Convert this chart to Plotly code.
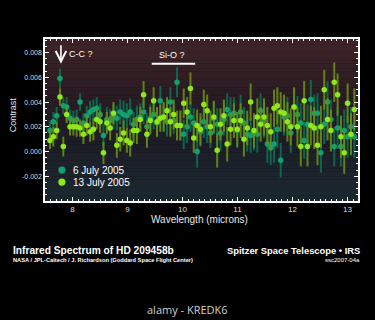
import plotly.graph_objects as go

# ---------------- data ----------------
wavelength = [7.590, 7.651, 7.712, 7.772, 7.833, 7.894, 7.955, 8.016, 8.076, 8.137,
              8.198, 8.259, 8.320, 8.380, 8.441, 8.502, 8.563, 8.624, 8.684, 8.745,
              8.806, 8.867, 8.928, 8.988, 9.049, 9.110, 9.171, 9.232, 9.292, 9.353,
              9.414, 9.475, 9.536, 9.596, 9.657, 9.718, 9.779, 9.840, 9.900, 9.961,
              10.022, 10.083, 10.144, 10.204, 10.265, 10.326, 10.387, 10.448, 10.508, 10.569,
              10.630, 10.691, 10.752, 10.812, 10.873, 10.934, 10.995, 11.056, 11.116, 11.177,
              11.238, 11.299, 11.360, 11.420, 11.481, 11.542, 11.603, 11.664, 11.724, 11.785,
              11.846, 11.907, 11.968, 12.028, 12.089, 12.150, 12.211, 12.272, 12.332, 12.393,
              12.454, 12.515, 12.576, 12.636, 12.697, 12.758, 12.819, 12.880, 12.940, 13.001,
              13.062, 13.123]

contrast_jul6 = [0.0017, 0.0024, 0.0029, 0.0059, 0.0037, 0.0036, 0.0027, 0.0025, 0.0026, 0.0040,
                 0.0023, 0.0029, 0.0032, 0.0034, 0.0035, 0.0030, 0.0013, 0.0026, 0.0025, 0.0028,
                 0.0027, 0.0032, 0.0030, 0.0029, 0.0032, 0.0022, 0.0026, 0.0028, 0.0032, 0.0020,
                 0.0027, 0.0030, 0.0023, 0.0041, 0.0028, 0.0024, 0.0040, 0.0025, 0.0056, 0.0021,
                 0.0014, 0.0020, 0.0028, 0.0023, 0.0000, 0.0016, 0.0024, 0.0020, 0.0015, 0.0027,
                 0.0022, 0.0015, 0.0026, 0.0034, 0.0030, 0.0031, 0.0017, 0.0032, 0.0023, 0.0014,
                 0.0013, 0.0015, 0.0014, 0.0033, 0.0025, 0.0006, 0.0003, 0.0006, 0.0018, -0.0007,
                 0.0028, 0.0029, 0.0015, 0.0036, 0.0030, 0.0023, 0.0009, 0.0022, 0.0042, 0.0031,
                 0.0031, -0.0001, 0.0022, 0.0040, 0.0026, 0.0004, 0.0019, 0.0004, 0.0017, 0.0012,
                 0.0020, 0.0012]

contrast_jul13 = [0.0009, 0.0012, 0.0017, 0.0044, 0.0004, 0.0030, 0.0020, 0.0020, 0.0020, 0.0019,
                  0.0014, 0.0021, 0.0016, 0.0018, 0.0026, 0.0024, -0.0001, 0.0023, 0.0019, 0.0031,
                  0.0005, 0.0010, 0.0015, 0.0009, 0.0007, 0.0017, 0.0017, 0.0026, 0.0046, 0.0014,
                  0.0025, 0.0041, 0.0024, 0.0027, 0.0028, 0.0033, 0.0024, 0.0030, 0.0021, 0.0021,
                  0.0039, 0.0032, 0.0051, 0.0011, 0.0021, 0.0018, 0.0038, 0.0033, 0.0020, 0.0028,
                  0.0001, 0.0022, 0.0029, 0.0006, 0.0018, 0.0025, 0.0018, 0.0025, 0.0010, 0.0019,
                  0.0040, 0.0017, 0.0028, 0.0022, 0.0028, 0.0021, 0.0016, 0.0035, 0.0037, 0.0032,
                  0.0031, 0.0024, 0.0020, 0.0036, 0.0020, 0.0004, 0.0041, 0.0004, 0.0021, 0.0019,
                  0.0005, 0.0020, 0.0050, 0.0026, 0.0017, 0.0056, 0.0046, 0.0012, -0.0001, 0.0039,
                  0.0014, 0.0034]

error_jul6 = [0.0008, 0.0008, 0.0007, 0.0008, 0.0007, 0.0008, 0.0007, 0.0008, 0.0008, 0.0007,
              0.0008, 0.0008, 0.0009, 0.0008, 0.0009, 0.0009, 0.0009, 0.0010, 0.0009, 0.0010,
              0.0010, 0.0010, 0.0011, 0.0010, 0.0011, 0.0010, 0.0011, 0.0011, 0.0010, 0.0011,
              0.0011, 0.0012, 0.0011, 0.0012, 0.0011, 0.0012, 0.0012, 0.0011, 0.0012, 0.0012,
              0.0012, 0.0013, 0.0012, 0.0012, 0.0013, 0.0012, 0.0013, 0.0013, 0.0012, 0.0013,
              0.0013, 0.0014, 0.0013, 0.0013, 0.0014, 0.0013, 0.0014, 0.0014, 0.0013, 0.0014,
              0.0014, 0.0014, 0.0015, 0.0014, 0.0014, 0.0015, 0.0014, 0.0015, 0.0015, 0.0014,
              0.0015, 0.0015, 0.0016, 0.0015, 0.0015, 0.0016, 0.0015, 0.0016, 0.0016, 0.0015,
              0.0016, 0.0016, 0.0016, 0.0017, 0.0016, 0.0016, 0.0017, 0.0016, 0.0017, 0.0017,
              0.0016, 0.0017]

error_jul13 = [0.0007, 0.0008, 0.0007, 0.0007, 0.0008, 0.0007, 0.0007, 0.0007, 0.0008, 0.0007,
               0.0008, 0.0008, 0.0008, 0.0009, 0.0008, 0.0009, 0.0009, 0.0009, 0.0010, 0.0009,
               0.0010, 0.0010, 0.0010, 0.0010, 0.0011, 0.0010, 0.0011, 0.0010, 0.0011, 0.0011,
               0.0011, 0.0011, 0.0012, 0.0011, 0.0012, 0.0011, 0.0012, 0.0012, 0.0012, 0.0012,
               0.0012, 0.0012, 0.0013, 0.0012, 0.0013, 0.0013, 0.0012, 0.0013, 0.0013, 0.0013,
               0.0014, 0.0013, 0.0013, 0.0014, 0.0013, 0.0014, 0.0014, 0.0014, 0.0014, 0.0014,
               0.0015, 0.0014, 0.0015, 0.0014, 0.0015, 0.0015, 0.0015, 0.0015, 0.0015, 0.0016,
               0.0015, 0.0016, 0.0015, 0.0016, 0.0016, 0.0016, 0.0016, 0.0016, 0.0016, 0.0017,
               0.0016, 0.0017, 0.0016, 0.0017, 0.0017, 0.0016, 0.0017, 0.0017, 0.0017, 0.0016,
               0.0017, 0.0017]

series_names = ["6 July 2005", "13 July 2005"]
x_ticks = [8, 9, 10, 11, 12, 13]
y_ticks = [-0.002, 0.000, 0.002, 0.004, 0.006, 0.008]
y_tick_labels = ["-0.002", "0.000", "0.002", "0.004", "0.006", "0.008"]

# ---------------- style ----------------
FONT = "Liberation Sans"
TEAL = "#12a06e"
TEAL_BAR = "rgba(14,105,78,0.95)"
LIME = "#8fe81a"
LIME_BAR = "rgba(105,140,22,0.9)"

fig = go.Figure()

fig.add_trace(go.Scatter(
    x=wavelength, y=contrast_jul6, mode="markers", name=series_names[0],
    marker=dict(color=TEAL, size=5.5),
    error_y=dict(type="data", array=error_jul6, color=TEAL_BAR, thickness=2, width=0),
))
fig.add_trace(go.Scatter(
    x=wavelength, y=contrast_jul13, mode="markers", name=series_names[1],
    marker=dict(color=LIME, size=5.5),
    error_y=dict(type="data", array=error_jul13, color=LIME_BAR, thickness=2, width=0),
))

# background gradient (top: dark maroon -> bottom: dark slate)
stops = [(0.0, (62, 36, 39)), (0.35, (42, 28, 35)), (0.65, (29, 29, 39)), (1.0, (27, 41, 49))]
nb = 60
for i in range(nb):
    t = (i + 0.5) / nb  # 0 top, 1 bottom
    for j in range(len(stops) - 1):
        if stops[j][0] <= t <= stops[j + 1][0]:
            a, ca = stops[j]
            b, cb = stops[j + 1]
            f = (t - a) / (b - a)
            c = tuple(int(round(ca[k] + (cb[k] - ca[k]) * f)) for k in range(3))
            break
    fig.add_shape(type="rect", xref="x domain", yref="y domain",
                  x0=0, x1=1, y0=1 - (i + 1) / nb - 0.001, y1=1 - i / nb + 0.001,
                  fillcolor="rgb(%d,%d,%d)" % c, line=dict(width=0), layer="below")

# Si-O bar
fig.add_shape(type="line", xref="x", yref="y", x0=9.44, x1=10.23, y0=0.0071, y1=0.0071,
              line=dict(color="white", width=2))

# legend (drawn manually for compact spacing)
legend_y = [0.191, 0.117]
legend_colors = [TEAL, LIME]
for ly, col in zip(legend_y, legend_colors):
    fig.add_shape(type="circle", xref="paper", yref="paper",
                  xsizemode="pixel", ysizemode="pixel", xanchor=0.054, yanchor=ly,
                  x0=-3.6, x1=3.6, y0=-3.6, y1=3.6,
                  fillcolor=col, line=dict(width=0))

annotations = [
    dict(x=7.79, y=0.0071, xref="x", yref="y", ax=0, ay=-20, showarrow=True,
         arrowhead=5, arrowsize=1.3, arrowwidth=1.6, arrowcolor="white", text=""),
    dict(x=8.16, y=0.0079, xref="x", yref="y", text="C-C ?", showarrow=False,
         xanchor="center", yanchor="middle",
         font=dict(family=FONT, size=9, color="white")),
    dict(x=9.80, y=0.0078, xref="x", yref="y", text="Si-O ?", showarrow=False,
         xanchor="center", yanchor="middle",
         font=dict(family=FONT, size=9, color="white")),
    dict(x=-0.102, y=0.53, xref="paper", yref="paper", text="Contrast", textangle=-90,
         xanchor="center", yanchor="middle",
         showarrow=False, font=dict(family=FONT, size=9, color="#e8e8e8")),
    dict(x=0.494, y=-0.117, xref="paper", yref="paper", text="Wavelength (microns)",
         xanchor="center", yanchor="middle",
         showarrow=False, font=dict(family=FONT, size=10, color="#e8e8e8")),
    dict(x=0.083, y=legend_y[0], xref="paper", yref="paper", text=series_names[0],
         xanchor="left", yanchor="middle", showarrow=False,
         font=dict(family=FONT, size=10, color="white")),
    dict(x=0.083, y=legend_y[1], xref="paper", yref="paper", text=series_names[1],
         xanchor="left", yanchor="middle", showarrow=False,
         font=dict(family=FONT, size=10, color="white")),
    dict(x=-0.108, y=-0.306, xref="paper", yref="paper", xanchor="left", yanchor="middle",
         text="<b>Infrared Spectrum of HD 209458b</b>", showarrow=False,
         font=dict(family=FONT, size=10.2, color="white")),
    dict(x=-0.108, y=-0.362, xref="paper", yref="paper", xanchor="left", yanchor="middle",
         text="<b>NASA / JPL-Caltech / J. Richardson (Goddard Space Flight Center)</b>",
         showarrow=False, font=dict(family=FONT, size=5.7, color="white")),
    dict(x=1.013, y=-0.303, xref="paper", yref="paper", xanchor="right", yanchor="middle",
         text="<b>Spitzer Space Telescope • IRS</b>", showarrow=False,
         font=dict(family=FONT, size=9.4, color="white")),
    dict(x=1.013, y=-0.362, xref="paper", yref="paper", xanchor="right", yanchor="middle",
         text="ssc2007-04a", showarrow=False,
         font=dict(family=FONT, size=6, color="white")),
    dict(x=0.454, y=-0.667, xref="paper", yref="paper", xanchor="center", yanchor="middle",
         text="alamy - KREDK6", showarrow=False,
         font=dict(family="Open Sans", size=11, color="#cfcfcf")),
]

axis_common = dict(
    showline=True, linecolor="white", linewidth=1.5, mirror="allticks",
    ticks="inside", ticklen=4, tickcolor="white", tickwidth=1,
    showgrid=False, zeroline=False,
)

fig.update_layout(
    width=375, height=320,
    margin=dict(l=45, r=17, t=39, b=119),
    paper_bgcolor="black", plot_bgcolor="black",
    showlegend=False,
    annotations=annotations,
    xaxis=dict(range=[7.5, 13.19], tickvals=x_ticks, ticktext=[str(v) for v in x_ticks],
               tickfont=dict(family=FONT, size=8, color="#dddddd"),
               minor=dict(dtick=0.1, ticklen=2, tickcolor="white", ticks="inside"),
               **axis_common),
    yaxis=dict(range=[-0.004, 0.0091], tickvals=y_ticks, ticktext=y_tick_labels,
               tickfont=dict(family=FONT, size=7, color="#dddddd"),
               minor=dict(dtick=0.0005, ticklen=2, tickcolor="white", ticks="inside"),
               **axis_common),
)

fig.write_html("out.html")
